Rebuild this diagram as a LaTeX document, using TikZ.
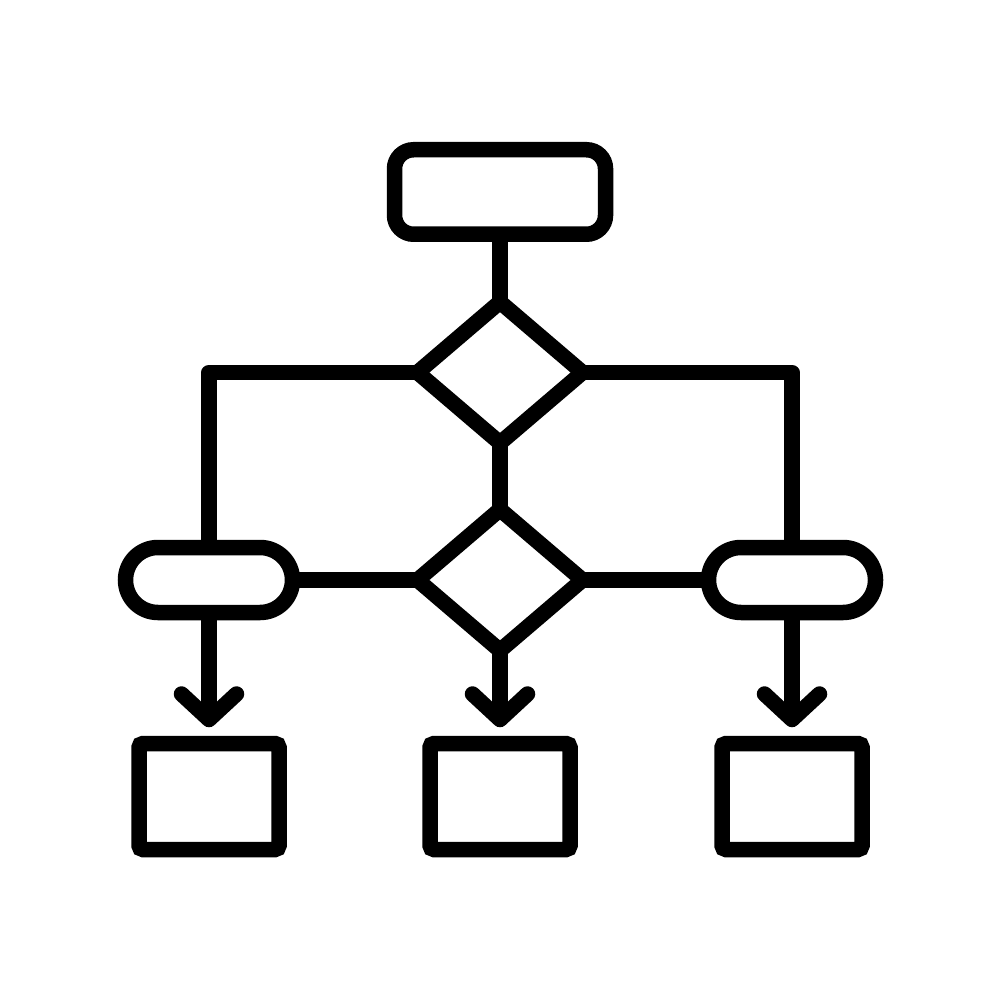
\documentclass[tikz,border=0pt]{standalone}
\usetikzlibrary{shapes.geometric}
\begin{document}
\begin{tikzpicture}[
  x=1cm,y=1cm,
  base/.style={draw=black,line width=0.155cm,inner sep=0pt,outer sep=0pt,fill=white},
  startbox/.style={base,rectangle,rounded corners=0.19cm,minimum width=2.11cm,minimum height=0.845cm},
  decision/.style={base,diamond,minimum width=1.65cm,minimum height=1.41cm,line join=miter},
  pill/.style={base,rectangle,rounded corners=0.325cm,minimum width=1.67cm,minimum height=0.65cm},
  endbox/.style={base,rectangle,rounded corners=0.04cm,minimum width=1.40cm,minimum height=1.06cm},
  conn/.style={draw=black,line width=0.155cm,line join=round},
  chev/.style={draw=black,line width=0.155cm,line cap=round,line join=round}
]
\fill[white] (0,0) rectangle (10,-10);
\useasboundingbox (0,0) rectangle (10,-10);

% shapes
\node[startbox] (top) at (5.00,-1.92) {};
\node[decision] (d1) at (5.00,-3.725) {};
\node[decision] (d2) at (5.00,-5.80) {};
\node[pill] (p1) at (2.09,-5.80) {};
\node[pill] (p2) at (7.92,-5.80) {};
\node[endbox] (b1) at (2.09,-7.965) {};
\node[endbox] (b2) at (5.00,-7.965) {};
\node[endbox] (b3) at (7.92,-7.965) {};

% arrow tips (free ends, just above the boxes)
\coordinate (t1) at ([yshift=0.24cm]b1.north);
\coordinate (t2) at ([yshift=0.24cm]b2.north);
\coordinate (t3) at ([yshift=0.24cm]b3.north);

% connectors
\draw[conn] (top.south) -- (d1.north);
\draw[conn] (d1.south) -- (d2.north);
\draw[conn] (d1.west) -| (p1.north);
\draw[conn] (d1.east) -| (p2.north);
\draw[conn] (p1.east) -- (d2.west);
\draw[conn] (d2.east) -- (p2.west);
\draw[conn] (p1.south) -- (t1);
\draw[conn] (d2.south) -- (t2);
\draw[conn] (p2.south) -- (t3);

% arrowheads (open chevrons with round ends)
\foreach \t in {t1,t2,t3}{
  \draw[chev] ([shift={(-0.275,0.255)}]\t) -- (\t) -- ([shift={(0.275,0.255)}]\t);
}
\end{tikzpicture}
\end{document}
